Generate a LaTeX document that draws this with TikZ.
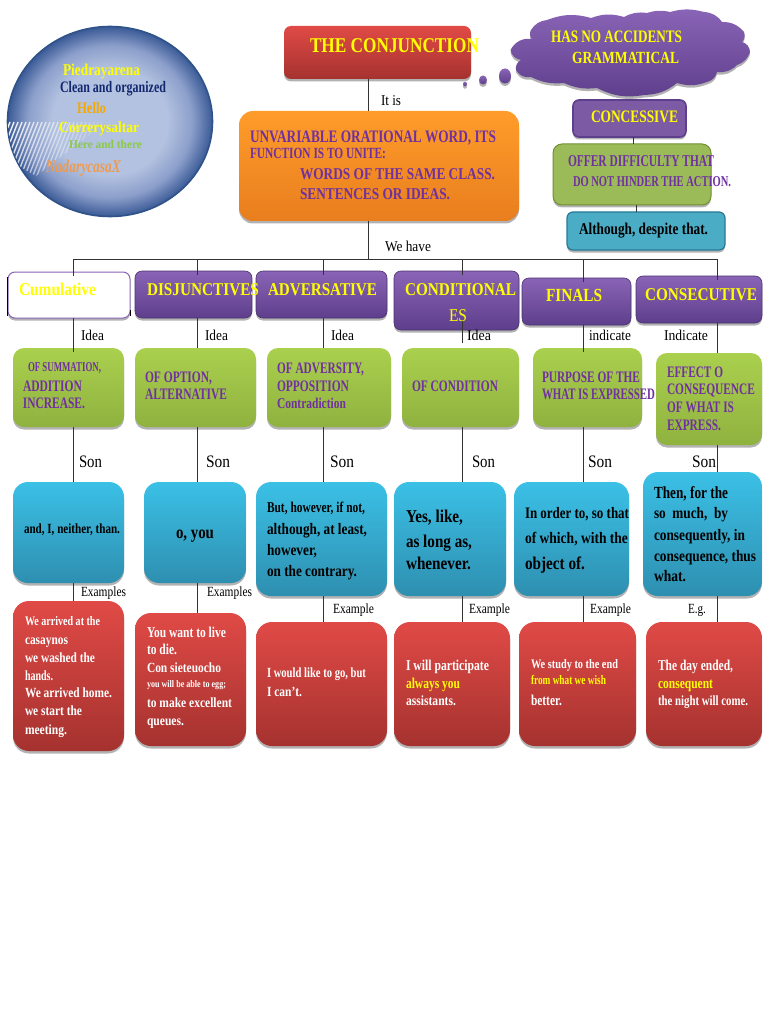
\documentclass[tikz,border=0pt]{standalone}
\usepackage{fontspec}
\usepackage{graphicx}
\setmainfont{Liberation Serif}
\usetikzlibrary{shadows,shapes.geometric,calc}
\definecolor{pur}{HTML}{7030A0}
\definecolor{ptop}{HTML}{8A64B6}
\definecolor{pbot}{HTML}{5E3F8C}
\definecolor{gtop}{HTML}{AAD04E}
\definecolor{gbot}{HTML}{8FB23F}
\definecolor{btop}{HTML}{3BC0E6}
\definecolor{bbot}{HTML}{2E8FB0}
\definecolor{rtop}{HTML}{E04A46}
\definecolor{rbot}{HTML}{A5322F}
\definecolor{otop}{HTML}{FF9C2A}
\definecolor{obot}{HTML}{E87E1E}
\definecolor{ylw}{HTML}{FFFF00}
\definecolor{HTMLball}{HTML}{B3C2E0}
\definecolor{HTMLmid}{HTML}{8C9FCB}
\definecolor{HTMLedge}{HTML}{3A5A96}
\definecolor{HTMLrim}{HTML}{2F5289}
\definecolor{HTMLnavy}{HTML}{13286E}
\definecolor{HTMLgold}{HTML}{F5A800}
\definecolor{HTMLlime}{HTML}{8CC84B}
\definecolor{HTMLpeach}{HTML}{EE9A50}
\pgfdeclareradialshading{ballshade}{\pgfpointorigin}{%
  color(0bp)=(HTMLball); color(14bp)=(HTMLball); color(20bp)=(HTMLmid); color(25bp)=(HTMLedge); color(50bp)=(HTMLedge)}
\newcounter{tlab}
\tikzset{
  x=1pt,y=-1pt,
  softshadow/.style={drop shadow={shadow xshift=0pt,shadow yshift=-2.5pt,opacity=.3,fill=black}},
  boxbase/.style={inner sep=0pt,outer sep=0pt,draw=none,softshadow},
  purbox/.style={boxbase,rounded corners=7pt,top color=ptop,bottom color=pbot,draw=pbot!80!black,line width=.6pt},
  grnbox/.style={boxbase,rounded corners=11pt,top color=gtop,bottom color=gbot},
  blubox/.style={boxbase,rounded corners=15pt,top color=btop,bottom color=bbot},
  redbox/.style={boxbase,rounded corners=16pt,top color=rtop,bottom color=rbot},
  ornbox/.style={boxbase,rounded corners=14pt,top color=otop,bottom color=obot},
  titlebox/.style={boxbase,rounded corners=7pt,top color=rtop,bottom color=rbot},
  whitebox/.style={boxbase,rounded corners=7pt,fill=white,draw=ptop,line width=1pt},
  flatpur/.style={boxbase,rounded corners=6pt,fill=ptop!90!black,draw=pbot,line width=1.6pt},
  flatgrn/.style={boxbase,rounded corners=9pt,fill={rgb,255:red,155;green,187;blue,89},draw=gbot!80!black,line width=1pt},
  flatblu/.style={boxbase,rounded corners=6pt,fill={rgb,255:red,75;green,172;blue,198},draw=bbot!85!black,line width=1.2pt},
  conn/.style={draw=black!80,line width=.8pt},
  lab/.style={inner sep=0pt,outer sep=0pt,anchor=base west},
}
\newcommand{\bx}[6]{%
  \pgfmathsetlengthmacro\bw{#5-#3}\pgfmathsetlengthmacro\bh{#6-#4}%
  \node[#2,minimum width=\bw,minimum height=\bh] (#1) at ({(#3+#5)/2},{(#4+#6)/2}) {};}
\newcommand{\tb}[6]{%
  \stepcounter{tlab}\pgfmathsetlengthmacro\tw{#2-#1}%
  \node[lab,text=#5] (tl\arabic{tlab}) at (#1,#3) {\resizebox{\tw}{\height}{\fontsize{#4}{#4}\selectfont\bfseries #6}};}
\newcommand{\tn}[6]{%
  \stepcounter{tlab}\pgfmathsetlengthmacro\tw{#2-#1}%
  \node[lab,text=#5] (tl\arabic{tlab}) at (#1,#3) {\resizebox{\tw}{\height}{\fontsize{#4}{#4}\selectfont #6}};}
\newcommand{\ti}[6]{%
  \stepcounter{tlab}\pgfmathsetlengthmacro\tw{#2-#1}%
  \node[lab,text=#5] (tl\arabic{tlab}) at (#1,#3) {\resizebox{\tw}{\height}{\fontsize{#4}{#4}\selectfont\itshape\bfseries #6}};}
\begin{document}
\begin{tikzpicture}
\useasboundingbox (0,0) rectangle (768,1024);
\fill[white] (0,0) rectangle (768,1024);

% ---- ball
\node[ellipse,minimum width=205pt,minimum height=190pt,inner sep=0pt,shading=ballshade] (ball) at (110,121.5) {};
\draw[draw=HTMLrim,line width=1.6pt] (ball.center) ellipse [x radius=102.5,y radius=95];
\begin{scope}
  \clip (ball.center) ellipse [x radius=102,y radius=94.5];
  \clip (8,122) -- (106,122) -- (36,176) -- (8,160) -- cycle;
  \foreach \i in {0,...,24}{
    \pgfmathsetmacro\op{max(0.1,0.95-\i*0.036)}
    \draw[white,opacity=\op,line width=1.4pt] ({10+\i*4},122) -- ({10+\i*4-22},178);
  }
\end{scope}
\tb{63}{140}{76}{16.5}{ylw}{Piedrayarena}
\tb{60}{166}{93}{16}{HTMLnavy}{Clean and organized}
\tb{77}{106}{114}{16}{HTMLgold}{Hello}
\tb{59}{139}{133}{15.5}{ylw}{Correrysaltar}
\tb{69}{142}{149}{12}{HTMLlime}{Here and there}
\ti{46}{121}{173}{18}{HTMLpeach}{NadarycasaX}

% ---- title and cloud
\bx{title}{titlebox}{284}{26}{471}{79}
\tb{310}{479}{53}{21}{ylw}{THE CONJUNCTION}

\path[top color=ptop,bottom color=pbot,softshadow]
  (510.5,50) to[bend left=35] (532,39) to[bend left=35] (531,30)
  to[bend left=25] (547,20) to[bend left=18] (591,18) to[bend left=18] (624,17)
  to[bend left=18] (647,13) to[bend left=15] (670,12) to[bend left=15] (704,12)
  to[bend left=25] (722,22) to[bend left=25] (744,32) to[bend left=30] (742,42)
  to[bend left=35] (750,52) to[bend left=25] (737,65) to[bend left=25] (717,72)
  to[bend left=30] (707,82) to[bend left=18] (677,83) to[bend left=18] (644,95)
  to[bend left=18] (597,88) to[bend left=15] (564,83) to[bend left=15] (531,77)
  to[bend left=35] (516,70) to[bend left=35] (521,60) to[bend left=35] (510.5,50) -- cycle;
\node[ellipse,minimum width=12pt,minimum height=15pt,inner sep=0pt,top color=ptop,bottom color=pbot,softshadow] (bub1) at (505,76) {};
\node[ellipse,minimum width=8pt,minimum height=9pt,inner sep=0pt,top color=ptop,bottom color=pbot,softshadow] (bub2) at (483,80) {};
\node[ellipse,minimum width=4pt,minimum height=4.5pt,inner sep=0pt,top color=ptop,bottom color=pbot,softshadow] (bub3) at (465,84) {};
\tb{551}{682}{43}{17.5}{ylw}{HAS NO ACCIDENTS}
\tb{572}{679}{64}{17}{ylw}{GRAMMATICAL}

% ---- concessive column
\bx{conc}{flatpur}{573}{100}{686}{137}
\bx{offer}{flatgrn}{553}{144}{711}{205}
\bx{alth}{flatblu}{567}{212}{725}{250}
\coordinate (ca) at (633,140);
\coordinate (cb) at (636,208);
\draw[conn] (conc.south -| ca) -- (offer.north -| ca);
\draw[conn] (offer.south -| cb) -- (alth.north -| cb);
\tb{591}{678}{123}{17.5}{ylw}{CONCESSIVE}
\tb{568}{714}{167}{16.5}{pur}{OFFER DIFFICULTY THAT}
\tb{573}{731}{187}{15}{pur}{DO NOT HINDER THE ACTION.}
\tb{579}{708}{235}{16.5}{black}{Although, despite that.}

% ---- definition
\bx{defn}{ornbox}{239}{111}{519}{221}
\coordinate (tm) at (368,259);
\draw[conn] (title.south -| tm) -- (defn.north -| tm);
\draw[conn] (defn.south -| tm) -- (tm);
\tb{250}{496}{143}{17.5}{pur}{UNVARIABLE ORATIONAL WORD, ITS}
\tb{250}{386}{159}{15.5}{pur}{FUNCTION IS TO UNITE:}
\tb{300}{495}{180}{16.5}{pur}{WORDS OF THE SAME CLASS.}
\tb{300}{450}{200}{16.5}{pur}{SENTENCES OR IDEAS.}
\tn{381}{401}{106}{15}{black}{It is}
\tn{385}{431}{251}{15}{black}{We have}

% ---- trunk coordinates
\coordinate (tr1) at (73.3,259);
\coordinate (tr2) at (197.5,259);
\coordinate (tr3) at (323.5,259);
\coordinate (tr4) at (462,259);
\coordinate (tr5) at (583,259);
\coordinate (tr6) at (717,259);
\coordinate (stub) at (462,343);

% ---- categories
\bx{cat1}{whitebox}{8}{272}{130}{318}
\draw[black,line width=1.4pt] (7.6,277) -- (7.6,316);
\draw[black,line width=1.2pt] (130.4,310) -- (130.4,316);
\bx{cat2}{purbox}{135}{271}{252}{318}
\bx{cat3}{purbox}{256}{271}{387}{318}
\bx{cat4}{purbox}{394}{271}{519}{330}
\bx{cat5}{purbox}{522}{278}{631}{325}
\bx{cat6}{purbox}{636}{276}{762}{323}

% ---- green row
\bx{gr1}{grnbox}{13}{348}{124}{427}
\bx{gr2}{grnbox}{135}{348}{256}{427}
\bx{gr3}{grnbox}{267}{348}{391}{427}
\bx{gr4}{grnbox}{402}{348}{519}{427}
\bx{gr5}{grnbox}{533}{348}{642}{427}
\bx{gr6}{grnbox}{656}{353}{762}{445}

% ---- blue row
\bx{bl1}{blubox}{13}{482}{124}{583}
\bx{bl2}{blubox}{144}{482}{246}{583}
\bx{bl3}{blubox}{256}{482}{387}{596}
\bx{bl4}{blubox}{394}{482}{506}{596}
\bx{bl5}{blubox}{514}{482}{629}{596}
\bx{bl6}{blubox}{643}{472}{762}{596}

% ---- red row
\bx{rd1}{redbox}{13}{601}{124}{751}
\bx{rd2}{redbox}{135}{613}{246}{746}
\bx{rd3}{redbox}{256}{622}{387}{746}
\bx{rd4}{redbox}{394}{622}{510}{746}
\bx{rd5}{redbox}{519}{622}{636}{746}
\bx{rd6}{redbox}{646}{622}{762}{746}

% ---- connectors
\draw[conn] (tr1) -- (tr6);
\foreach \c in {1,2,3,4,5,6}{
  \draw[conn,shorten >=-4pt] (tr\c) -- (cat\c.north -| tr\c);
  \draw[conn] (gr\c.south -| tr\c) -- (bl\c.north -| tr\c);
  \draw[conn] (bl\c.south -| tr\c) -- (rd\c.north -| tr\c);
}
\foreach \c in {1,2,3,6}{
  \draw[conn] (cat\c.south -| tr\c) -- (gr\c.north -| tr\c);
}
\draw[conn,shorten >=-4pt] (cat1.south -| tr1) -- (gr1.north -| tr1);
\draw[conn,shorten >=-4pt] (cat5.south -| tr5) -- (gr5.north -| tr5);
\draw[conn,shorten <=-10pt] (cat4.south -| tr4) -- (stub);

% ---- category labels
\tb{19}{96}{295}{18}{ylw}{Cumulative}
\tb{147}{259}{295}{18}{ylw}{DISJUNCTIVES}
\tb{268}{377}{295}{18}{ylw}{ADVERSATIVE}
\tb{405}{516}{295}{18}{ylw}{CONDITIONAL}
\tn{449}{467}{321}{18}{ylw}{ES}
\tb{546}{602}{301}{18.5}{ylw}{FINALS}
\tb{645}{757}{300}{18}{ylw}{CONSECUTIVE}

% ---- link labels
\tn{81}{104}{340}{15}{black}{Idea}
\tn{205}{228}{340}{15}{black}{Idea}
\tn{331}{354}{340}{15}{black}{Idea}
\tn{467}{491}{340}{15}{black}{Idea}
\tn{589}{631}{340}{15}{black}{indicate}
\tn{664}{708}{340}{15}{black}{Indicate}
\tn{79}{102}{467}{17.5}{black}{Son}
\tn{206}{230}{467}{17.5}{black}{Son}
\tn{330}{354}{467}{17.5}{black}{Son}
\tn{472}{495}{467}{17.5}{black}{Son}
\tn{588}{612}{467}{17.5}{black}{Son}
\tn{692}{716}{467}{17.5}{black}{Son}
\tn{81}{126}{596}{14}{black}{Examples}
\tn{207}{252}{596}{14}{black}{Examples}
\tn{333}{374}{613}{14}{black}{Example}
\tn{469}{510}{613}{14}{black}{Example}
\tn{590}{631}{613}{14}{black}{Example}
\tn{688}{706}{613}{14}{black}{E.g.}

% ---- green texts
\tb{28}{101}{371}{13.5}{pur}{OF SUMMATION,}
\tb{23}{82}{391}{16}{pur}{ADDITION}
\tb{23}{85}{408}{16}{pur}{INCREASE.}
\tb{145}{212}{382}{16}{pur}{OF OPTION,}
\tb{145}{227}{399}{16}{pur}{ALTERNATIVE}
\tb{277}{364}{373}{16}{pur}{OF ADVERSITY,}
\tb{277}{349}{391}{16}{pur}{OPPOSITION}
\tb{277}{346}{408}{15}{pur}{Contradiction}
\tb{412}{498}{391}{16}{pur}{OF CONDITION}
\tb{542}{640}{382}{16}{pur}{PURPOSE OF THE}
\tb{542}{655}{399}{16}{pur}{WHAT IS EXPRESSED}
\tb{667}{723}{377}{16}{pur}{EFFECT O}
\tb{667}{755}{394}{16}{pur}{CONSEQUENCE}
\tb{667}{734}{412}{16}{pur}{OF WHAT IS}
\tb{667}{721}{430}{16}{pur}{EXPRESS.}

% ---- blue texts
\tb{24}{120}{533}{14}{black}{and, I, neither, than.}
\tb{176}{214}{538}{18}{black}{o, you}
\tb{267}{365}{512}{15}{black}{But, however, if not,}
\tb{267}{367}{534}{16}{black}{although, at least,}
\tb{267}{317}{555}{16}{black}{however,}
\tb{267}{357}{576}{16}{black}{on the contrary.}
\tb{406}{463}{522}{18}{black}{Yes, like,}
\tb{406}{472}{547}{18}{black}{as long as,}
\tb{406}{471}{569}{18}{black}{whenever.}
\tb{525}{629}{518}{16}{black}{In order to, so that}
\tb{525}{628}{543}{16}{black}{of which, with the}
\tb{525}{585}{569}{18}{black}{object of.}
\tb{654}{728}{498}{17}{black}{Then, for the}
\tb{654}{728}{518}{16}{black}{so\ \ much,\ \ by}
\tb{654}{745}{540}{16}{black}{consequently, in}
\tb{654}{756}{561}{16}{black}{consequence, thus}
\tb{654}{686}{581}{16}{black}{what.}

% ---- red texts
\tb{25}{100}{625}{13}{white}{We arrived at the}
\tb{25}{68}{644}{14}{white}{casaynos}
\tb{25}{95}{662}{14}{white}{we washed the}
\tb{25}{53}{680}{14}{white}{hands.}
\tb{25}{112}{697}{14}{white}{We arrived home.}
\tb{25}{82}{715}{14}{white}{we start the}
\tb{25}{67}{734}{14}{white}{meeting.}
\tb{147}{226}{637}{15}{white}{You want to live}
\tb{147}{177}{654}{15}{white}{to die.}
\tb{147}{221}{672}{14}{white}{Con sieteuocho}
\tb{147}{226}{687}{10}{white}{you will be able to egg;}
\tb{147}{232}{707}{14}{white}{to make excellent}
\tb{147}{184}{725}{14}{white}{queues.}
\tb{267}{366}{677}{14}{white}{I would like to go, but}
\tb{267}{302}{696}{14}{white}{I can't.}
\tb{406}{489}{670}{15}{white}{I will participate}
\tb{406}{460}{688}{15}{ylw}{always you}
\tb{406}{456}{705}{14}{white}{assistants.}
\tb{531}{618}{668}{13}{white}{We study to the end}
\tb{531}{606}{684}{13}{ylw}{from what we wish}
\tb{531}{562}{705}{15}{white}{better.}
\tb{658}{733}{670}{15}{white}{The day ended,}
\tb{658}{713}{688}{15}{ylw}{consequent}
\tb{658}{748}{705}{14}{white}{the night will come.}
\end{tikzpicture}
\end{document}
